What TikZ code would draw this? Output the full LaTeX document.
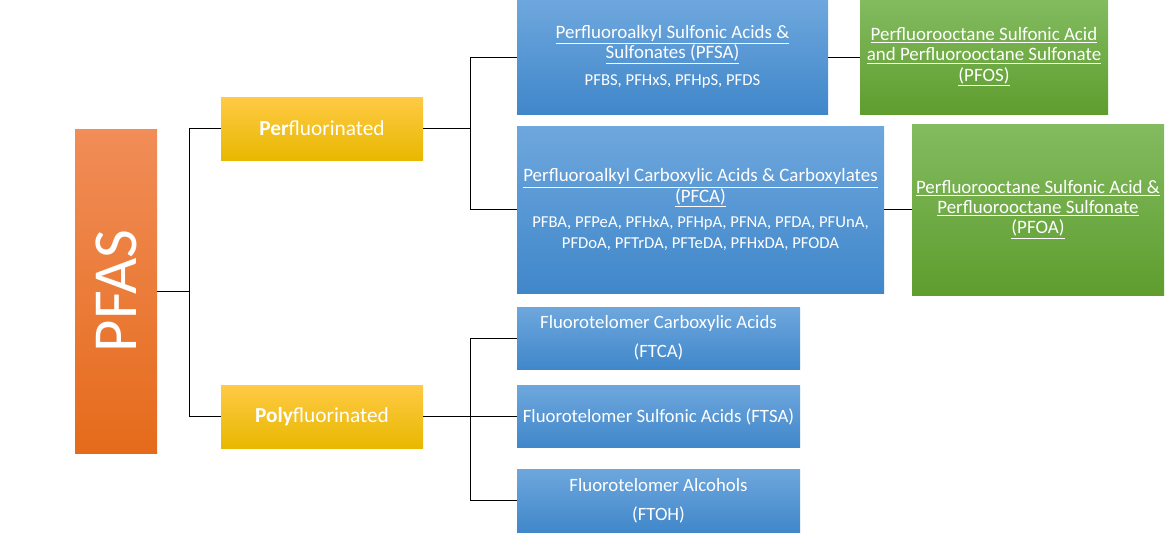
\documentclass[tikz,border=0pt]{standalone}
\usepackage{fontspec}
\setmainfont{Carlito}
\definecolor{orT}{HTML}{F18D58}
\definecolor{orB}{HTML}{E56B1B}
\definecolor{yeT}{HTML}{FFCA45}
\definecolor{yeM}{HTML}{FFC000}
\definecolor{yeB}{HTML}{E8B800}
\definecolor{blT}{HTML}{6EA7DD}
\definecolor{blM}{HTML}{559AD8}
\definecolor{blB}{HTML}{4087CA}
\definecolor{grT}{HTML}{83BB60}
\definecolor{grM}{HTML}{6DAB44}
\definecolor{grB}{HTML}{5E9D2E}
\tikzset{
  box/.style={rectangle, inner sep=2pt, text=white, align=center, anchor=center},
  orangebox/.style={box, top color=orT, bottom color=orB},
  yellowbox/.style={box, top color=yeT, middle color=yeM, bottom color=yeB,
     minimum width=151.5pt, minimum height=47.25pt, font=\fontsize{16}{19}\selectfont},
  bluebox/.style={box, top color=blT, middle color=blM, bottom color=blB},
  greenbox/.style={box, top color=grT, middle color=grM, bottom color=grB},
  conn/.style={draw=black, line width=0.75pt},
  titlefont/.style={font=\fontsize{14.2}{15.2}\selectfont},
  ftfont/.style={font=\fontsize{14.1}{15.2}\selectfont},
}
\begin{document}
\begin{tikzpicture}[x=0.75pt, y=-0.75pt]
\useasboundingbox (0,0) rectangle (1174,536);
% main
\node[orangebox, minimum width=61.5pt, minimum height=243pt] (pfas) at (116,291) {};
\node[text=white, rotate=90, font=\fontsize{47}{50}\selectfont, inner sep=0pt] (pfastext) at (pfas.center) {PFAS};
\node[yellowbox] (perf) at (322,128.5) {\textbf{Per}fluorinated};
\node[yellowbox] (poly) at (322,416.5) {\textbf{Poly}fluorinated};
% perfluorinated children
\node[bluebox, minimum width=233.25pt, minimum height=85.5pt, titlefont] (pfsa) at (672.5,57)
  {\underline{Perfluoroalkyl Sulfonic Acids \&}\\\underline{Sulfonates (PFSA)}\\[5pt]
   {\fontsize{12.5}{15}\selectfont PFBS, PFHxS, PFHpS, PFDS}};
\node[greenbox, minimum width=186pt, minimum height=85.5pt, titlefont] (pfos) at (984,57)
  {\underline{Perfluorooctane Sulfonic Acid}\\\underline{and Perfluorooctane Sulfonate}\\\underline{(PFOS)}};
\node[bluebox, minimum width=275.25pt, minimum height=125.25pt, titlefont] (pfca) at (700.5,209.5)
  {\underline{Perfluoroalkyl Carboxylic Acids \& Carboxylates}\\\underline{(PFCA)}\\[4pt]
   {\fontsize{12.5}{15}\selectfont PFBA, PFPeA, PFHxA, PFHpA, PFNA, PFDA, PFUnA,}\\
   {\fontsize{12.5}{15}\selectfont PFDoA, PFTrDA, PFTeDA, PFHxDA, PFODA}};
\node[greenbox, minimum width=189pt, minimum height=128.25pt, titlefont] (pfoa) at (1038,209.5)
  {\underline{Perfluorooctane Sulfonic Acid \&}\\\underline{Perfluorooctane Sulfonate}\\\underline{(PFOA)}};
% polyfluorinated children
\node[bluebox, minimum width=212.25pt, minimum height=46.5pt, ftfont] (ftca) at (658.5,338)
  {Fluorotelomer Carboxylic Acids\\[6.75pt](FTCA)};
\node[bluebox, minimum width=212.25pt, minimum height=46.5pt, ftfont] (ftsa) at (658.5,416.5)
  {Fluorotelomer Sulfonic Acids (FTSA)};
\node[bluebox, minimum width=212.25pt, minimum height=47.25pt, ftfont] (ftoh) at (658.5,500.5)
  {Fluorotelomer Alcohols\\[6.75pt](FTOH)};
% junctions
\coordinate (j1) at (189,291);
\coordinate (j2) at (470,128.5);
\coordinate (j3) at (470,416.5);
% connectors
\draw[conn] (pfas.east) -- (j1);
\draw[conn] (j1) |- (perf.west);
\draw[conn] (j1) |- (poly.west);
\draw[conn] (perf.east) -- (j2);
\draw[conn] (j2) |- (pfsa.west);
\draw[conn] (j2) |- (pfca.west);
\draw[conn] (poly.east) -- (j3);
\draw[conn] (j3) |- (ftca.west);
\draw[conn] (j3) -- (ftsa.west);
\draw[conn] (j3) |- (ftoh.west);
\draw[conn] (pfsa.east) -- (pfos.west);
\draw[conn] (pfca.east) -- (pfoa.west);
\end{tikzpicture}
\end{document}
